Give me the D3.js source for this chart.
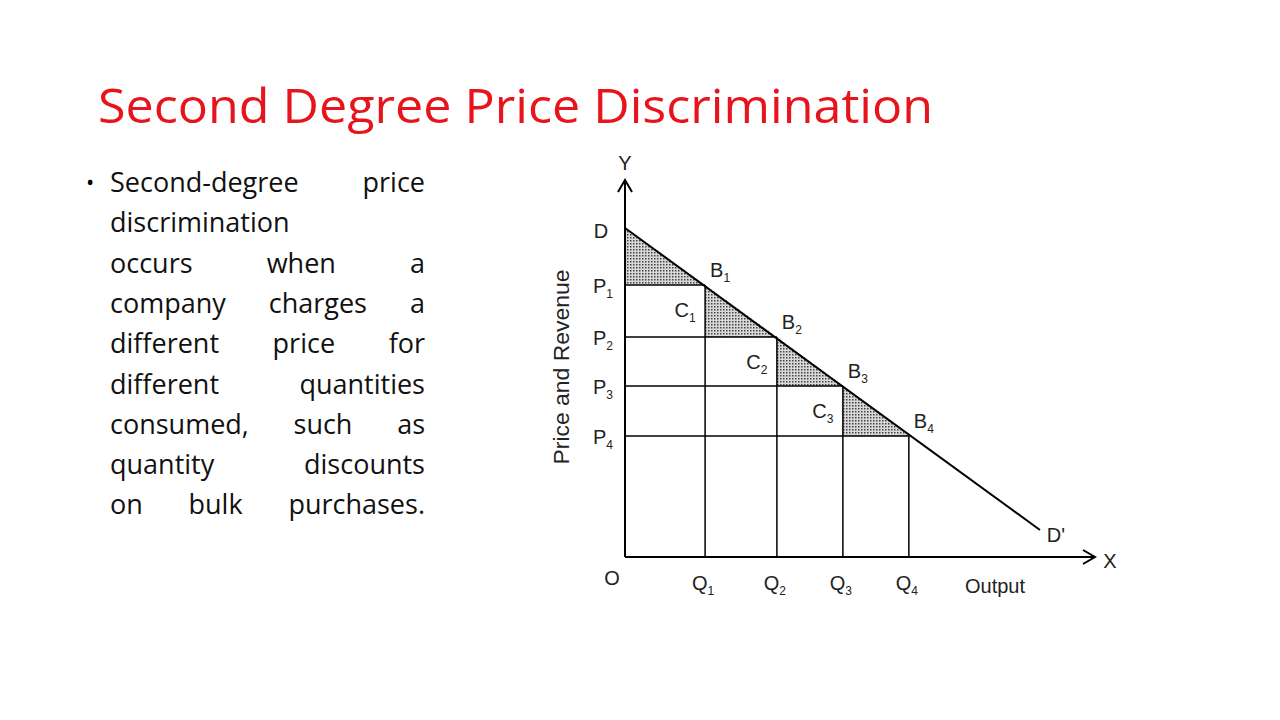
<!DOCTYPE html>
<html>
<head>
<meta charset="utf-8">
<script src="https://cdn.jsdelivr.net/npm/d3@7"></script>
<style>
  body { margin: 0; background: #fff; }
</style>
</head>
<body>
<svg id="slide" width="1280" height="720"></svg>
<script>
// Steps of the demand curve (output units 0-100, price units 0-100)
var qLabels = ['Q1', 'Q2', 'Q3', 'Q4'];
var qValues = [19.3, 36.6, 52.5, 68.4];
var pLabels = ['P1', 'P2', 'P3', 'P4'];
var pValues = [82.7, 66.9, 52.0, 36.8];
var cLabels = ['C1', 'C2', 'C3'];
var demandLine = [[0, 100], [100, 8.2]];

var bulletLines = [
  ['Second-degree price', true],
  ['discrimination', false],
  ['occurs when a', true],
  ['company charges a', true],
  ['different price for', true],
  ['different quantities', true],
  ['consumed, such as', true],
  ['quantity discounts', true],
  ['on bulk purchases.', true]
];

var svg = d3.select('#slide');

// Title
svg.append('text')
  .attr('x', 98).attr('y', 123)
  .attr('font-family', 'Open Sans, sans-serif')
  .attr('font-size', 48)
  .attr('fill', '#e8141b')
  .attr('textLength', 835).attr('lengthAdjust', 'spacingAndGlyphs')
  .text('Second Degree Price Discrimination');

// Bullet text, justified word by word
svg.append('text').attr('x', 86).attr('y', 190)
  .attr('font-family', 'Open Sans, sans-serif').attr('font-size', 22)
  .text('•');
var left = 110, right = 425;
bulletLines.forEach(function(l, i) {
  var by = 192 + i * 40.3;
  var words = l[0].split(' ');
  var nodes = words.map(function(w) {
    return svg.append('text').attr('y', by)
      .attr('font-family', 'Open Sans, sans-serif')
      .attr('font-size', 27).attr('fill', '#111').text(w);
  });
  var widths = nodes.map(function(n) { return n.node().getComputedTextLength(); });
  var total = d3.sum(widths);
  var gap = (l[1] && words.length > 1) ? (right - left - total) / (words.length - 1) : 7;
  var cx = left;
  nodes.forEach(function(n, j) { n.attr('x', cx); cx += widths[j] + gap; });
});

// Chart scales
var x = d3.scaleLinear().domain([0, 100]).range([625, 1040]);
var y = d3.scaleLinear().domain([0, 100]).range([557, 228]);
var x0 = x(0), y0 = y(0);

// Stipple pattern
var pat = svg.append('defs').append('pattern')
  .attr('id', 'dots').attr('width', 3).attr('height', 3)
  .attr('patternUnits', 'userSpaceOnUse');
pat.append('rect').attr('width', 3).attr('height', 3).attr('fill', '#d8d8d8');
pat.append('rect').attr('width', 1.5).attr('height', 1.5).attr('fill', '#444');

var g = svg.append('g');

// Shaded triangles under demand between steps
var topQ = [0].concat(qValues.slice(0, 3));
var topP = [100].concat(pValues.slice(0, 3));
qValues.forEach(function(q, i) {
  var pts = [[topQ[i], topP[i]], [topQ[i], pValues[i]], [q, pValues[i]]];
  g.append('path')
    .attr('d', d3.line().x(function(d) { return x(d[0]); }).y(function(d) { return y(d[1]); })(pts) + 'Z')
    .attr('fill', 'url(#dots)');
});

// Grid: horizontal price lines and vertical output lines
qValues.forEach(function(q, i) {
  g.append('line').attr('x1', x0).attr('x2', x(q))
    .attr('y1', y(pValues[i])).attr('y2', y(pValues[i]))
    .attr('stroke', '#000').attr('stroke-width', 1.5);
  g.append('line').attr('x1', x(q)).attr('x2', x(q))
    .attr('y1', y(pValues[i])).attr('y2', y0)
    .attr('stroke', '#000').attr('stroke-width', 1.5);
});

// Demand line
g.append('line')
  .attr('x1', x(demandLine[0][0])).attr('y1', y(demandLine[0][1]))
  .attr('x2', x(demandLine[1][0])).attr('y2', y(demandLine[1][1]))
  .attr('stroke', '#000').attr('stroke-width', 2);

// Axes with arrows
g.append('line').attr('x1', x0).attr('y1', y0).attr('x2', x0).attr('y2', 180)
  .attr('stroke', '#000').attr('stroke-width', 2);
g.append('path').attr('d', 'M' + (x0 - 7) + ',192 L' + x0 + ',180 L' + (x0 + 7) + ',192')
  .attr('fill', 'none').attr('stroke', '#000').attr('stroke-width', 2);
g.append('line').attr('x1', x0).attr('y1', y0).attr('x2', 1095).attr('y2', y0)
  .attr('stroke', '#000').attr('stroke-width', 2);
g.append('path').attr('d', 'M1083,' + (y0 - 7) + ' L1095,' + y0 + ' L1083,' + (y0 + 7))
  .attr('fill', 'none').attr('stroke', '#000').attr('stroke-width', 2);

// Labels with subscripts
function label(txt, px, py, anchor) {
  var t = g.append('text').attr('x', px).attr('y', py)
    .attr('font-family', 'Liberation Sans, Arial, sans-serif')
    .attr('font-size', 20).attr('fill', '#222')
    .attr('text-anchor', anchor || 'middle');
  var m = txt.match(/^([A-Z]'?)(\d?)$/);
  if (m) {
    t.append('tspan').text(m[1]);
    if (m[2]) t.append('tspan').attr('font-size', 12).attr('dy', 5).text(m[2]);
  } else t.text(txt);
  return t;
}

label('Y', x0, 170);
label('X', 1110, 568);
label('O', 612, 585);
label('D', 601, 238);
label("D'", 1056, 542);
label('Output', 995, 593);
pValues.forEach(function(p, i) { label(pLabels[i], 603, y(p) + 8); });
qValues.forEach(function(q, i) { label(qLabels[i], x(q) - 2, 590); });
qValues.forEach(function(q, i) {
  label('B' + (i + 1), x(q) + 15, y(pValues[i]) - 8);
});
cLabels.forEach(function(c, i) {
  label(c, x(qValues[i]) - 20, y(pValues[i]) + 32);
});

g.append('text')
  .attr('transform', 'translate(569,367) rotate(-90)')
  .attr('text-anchor', 'middle')
  .attr('font-family', 'Liberation Sans, Arial, sans-serif')
  .attr('font-size', 22).attr('fill', '#222')
  .attr('textLength', 195).attr('lengthAdjust', 'spacingAndGlyphs')
  .text('Price and Revenue');
</script>
</body>
</html>
